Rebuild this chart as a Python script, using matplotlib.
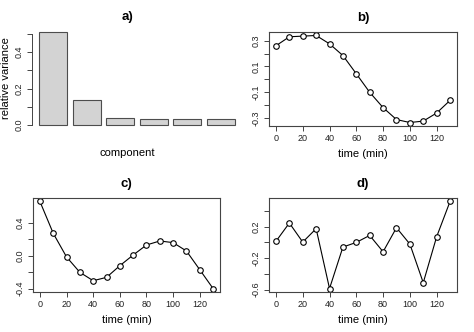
import matplotlib
matplotlib.use("Agg")
import matplotlib.pyplot as plt
import numpy as np

plt.rcParams['font.family'] = ['Liberation Sans', 'DejaVu Sans']

# panel a: relative variance per component
variance = [0.509, 0.137, 0.036, 0.035, 0.034, 0.034]

# panels b-d: component profiles over time
time_min = [0, 10, 20, 30, 40, 50, 60, 70, 80, 90, 100, 110, 120, 130]
comp_b = [0.261, 0.331, 0.336, 0.341, 0.276, 0.185, 0.043, -0.101,
          -0.220, -0.313, -0.336, -0.325, -0.262, -0.164]
comp_c = [0.660, 0.272, -0.016, -0.203, -0.305, -0.264, -0.122, 0.008,
          0.130, 0.179, 0.159, 0.057, -0.171, -0.400]
comp_d = [0.014, 0.247, 0.004, 0.175, -0.587, -0.059, 0.000, 0.089,
          -0.119, 0.187, -0.021, -0.513, 0.072, 0.521]

W, H = 474, 332
fig = plt.figure(figsize=(W / 100, H / 100), dpi=100)


def px_axes(left, top, right, bottom):
    return fig.add_axes([left / W, 1 - bottom / H, (right - left) / W, (bottom - top) / H])


def px_text(x, y, s, **kw):
    fig.text(x / W, 1 - y / H, s, ha='center', va='center', **kw)


TICK_FS = 6.5
LAB_FS = 8
TITLE_FS = 9.5
EDGE = '#444444'


def style_ticks(ax):
    ax.tick_params(direction='out', length=3.5, width=0.7, color=EDGE,
                   labelsize=TICK_FS, pad=2.5, labelcolor='#222222')
    for lab in ax.get_yticklabels():
        lab.set_rotation(90)
        lab.set_va('center')


# a) barplot
ax = px_axes(32, 28.5, 240, 128.7)
pos = 0.7 + 1.2 * np.arange(len(variance))
ax.bar(pos, variance, width=1.0, color='#d3d3d3', edgecolor='#4d4d4d', linewidth=0.8)
ax.set_xlim(-0.05, 7.38)
ax.set_ylim(-0.021, 0.53)
for s in ['top', 'right', 'bottom']:
    ax.spines[s].set_visible(False)
ax.spines['left'].set_bounds(0, 0.5)
ax.spines['left'].set_color(EDGE)
ax.spines['left'].set_linewidth(0.7)
ax.set_xticks([])
ax.set_yticks([0.0, 0.1, 0.2, 0.3, 0.4, 0.5])
ax.set_yticklabels(['0.0', '', '0.2', '', '0.4', ''])
style_ticks(ax)
px_text(6, 78, 'relative variance', fontsize=LAB_FS, rotation=90)
px_text(127, 153, 'component', fontsize=LAB_FS)
px_text(127, 17, 'a)', fontsize=TITLE_FS, fontweight='bold')


def line_panel(ax, y, yticks, ylabels, title):
    ax.plot(time_min, y, color='black', linewidth=0.8, marker='o', markersize=4.0,
            markerfacecolor='white', markeredgecolor='black', markeredgewidth=0.8)
    ax.margins(x=0.04, y=0.04)
    ax.set_xticks([0, 20, 40, 60, 80, 100, 120])
    ax.set_yticks(yticks)
    ax.set_yticklabels(ylabels)
    for s in ax.spines.values():
        s.set_color(EDGE)
        s.set_linewidth(0.8)
    style_ticks(ax)
    ax.set_xlabel('time (min)', fontsize=LAB_FS, labelpad=4)
    ax.set_title(title, fontsize=TITLE_FS, fontweight='bold', pad=8)


# b)
ax = px_axes(269, 32, 457, 126)
line_panel(ax, comp_b, [0.3, 0.2, 0.1, 0.0, -0.1, -0.2, -0.3],
           ['0.3', '', '0.1', '', '-0.1', '', '-0.3'], 'b)')

# c)
ax = px_axes(33, 198, 220, 292)
line_panel(ax, comp_c, [0.4, 0.2, 0.0, -0.2, -0.4],
           ['0.4', '', '0.0', '', '-0.4'], 'c)')

# d)
ax = px_axes(269, 198, 457, 292)
line_panel(ax, comp_d, [0.4, 0.2, 0.0, -0.2, -0.4, -0.6],
           ['', '0.2', '', '-0.2', '', '-0.6'], 'd)')

fig.savefig('out.png', dpi=100)
